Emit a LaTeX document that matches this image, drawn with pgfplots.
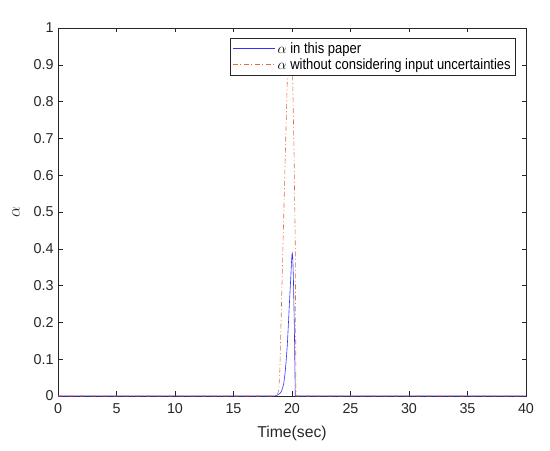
\documentclass[border=0pt]{standalone}
\usepackage{pgfplots}
\pgfplotsset{compat=1.18}
\usepackage{fontspec}
\setmainfont{Liberation Sans}
\newfontfamily\legfont[FakeStretch=0.87]{Liberation Sans}
\definecolor{mblue}{rgb}{0.2,0.2,1}
\definecolor{mred}{rgb}{0.9,0.42,0.25}
\definecolor{axc}{rgb}{0.15,0.15,0.15}
\begin{document}
\begin{tikzpicture}
\path[use as bounding box] (0,0) rectangle (550bp,451bp);
\begin{axis}[
  at={(58bp,55bp)}, anchor=south west,
  scale only axis, width=468bp, height=368bp,
  xmin=0, xmax=40, ymin=0, ymax=1,
  clip=false,
  xtick={0,5,...,40},
  ytick={0,0.1,0.2,0.3,0.4,0.5,0.6,0.7,0.8,0.9,1},
  yticklabels={0,0.1,0.2,0.3,0.4,0.5,0.6,0.7,0.8,0.9,1},
  xticklabels={0,5,10,15,20,25,30,35,40},
  tick align=inside, major tick length=4.5bp,
  axis line style={axc, line width=0.5pt},
  tick style={axc, line width=0.5pt},
  tick label style={font=\fontsize{14.4}{16}\selectfont, text=axc},
  /pgf/number format/assume math mode=true,
  xticklabel style={yshift=-4bp},
  yticklabel style={xshift=-1bp},
  xlabel={Time(sec)},
  xlabel style={font=\fontsize{15.8}{18}\selectfont, text=axc, yshift=-6bp},
  ylabel={$\alpha$},
  ylabel style={font=\fontsize{16.5}{19}\selectfont, text=axc, yshift=7bp},
  legend style={at={(1,1)}, anchor=north east, xshift=-11bp, yshift=-10bp,
    font=\legfont\fontsize{15}{17}\selectfont, draw=axc, fill=white, line width=0.5pt,
    inner sep=2bp, row sep=0bp, legend cell align=left},
  legend image code/.code={\draw[mark repeat=2,mark phase=2,#1] plot coordinates {(0cm,0cm) (0.75cm,0cm) (1.5cm,0cm)};},
]
\addplot[color=mblue, line width=0.6pt] coordinates {
(0,0) (18.5,0) (18.8,0.003) (19.0,0.008) (19.1,0.013) (19.2,0.022) (19.3,0.035)
(19.4,0.06) (19.5,0.095) (19.6,0.139) (19.7,0.2) (19.8,0.265) (19.9,0.325)
(19.95,0.36) (20.0,0.385) (20.03,0.388) (20.07,0.37) (20.12,0.32) (20.2,0.19)
(20.28,0) (40,0)};
\addlegendentry{$\alpha$ in this paper}
\addplot[color=mred, line width=0.6pt, dash pattern=on 5bp off 2.5bp on 1bp off 2.5bp] coordinates {
(0,0) (18.6,0) (18.75,0.004) (18.86,0.015) (18.95,0.06) (19.0,0.12) (19.23,0.41)
(19.4,0.62) (19.6,0.86) (19.75,0.96) (19.85,0.975) (19.95,0.95) (20.06,0.86)
(20.18,0.65) (20.28,0.41) (20.34,0) (40,0)};
\addlegendentry{$\alpha$ without considering input uncertainties}
\end{axis}
\end{tikzpicture}
\end{document}
